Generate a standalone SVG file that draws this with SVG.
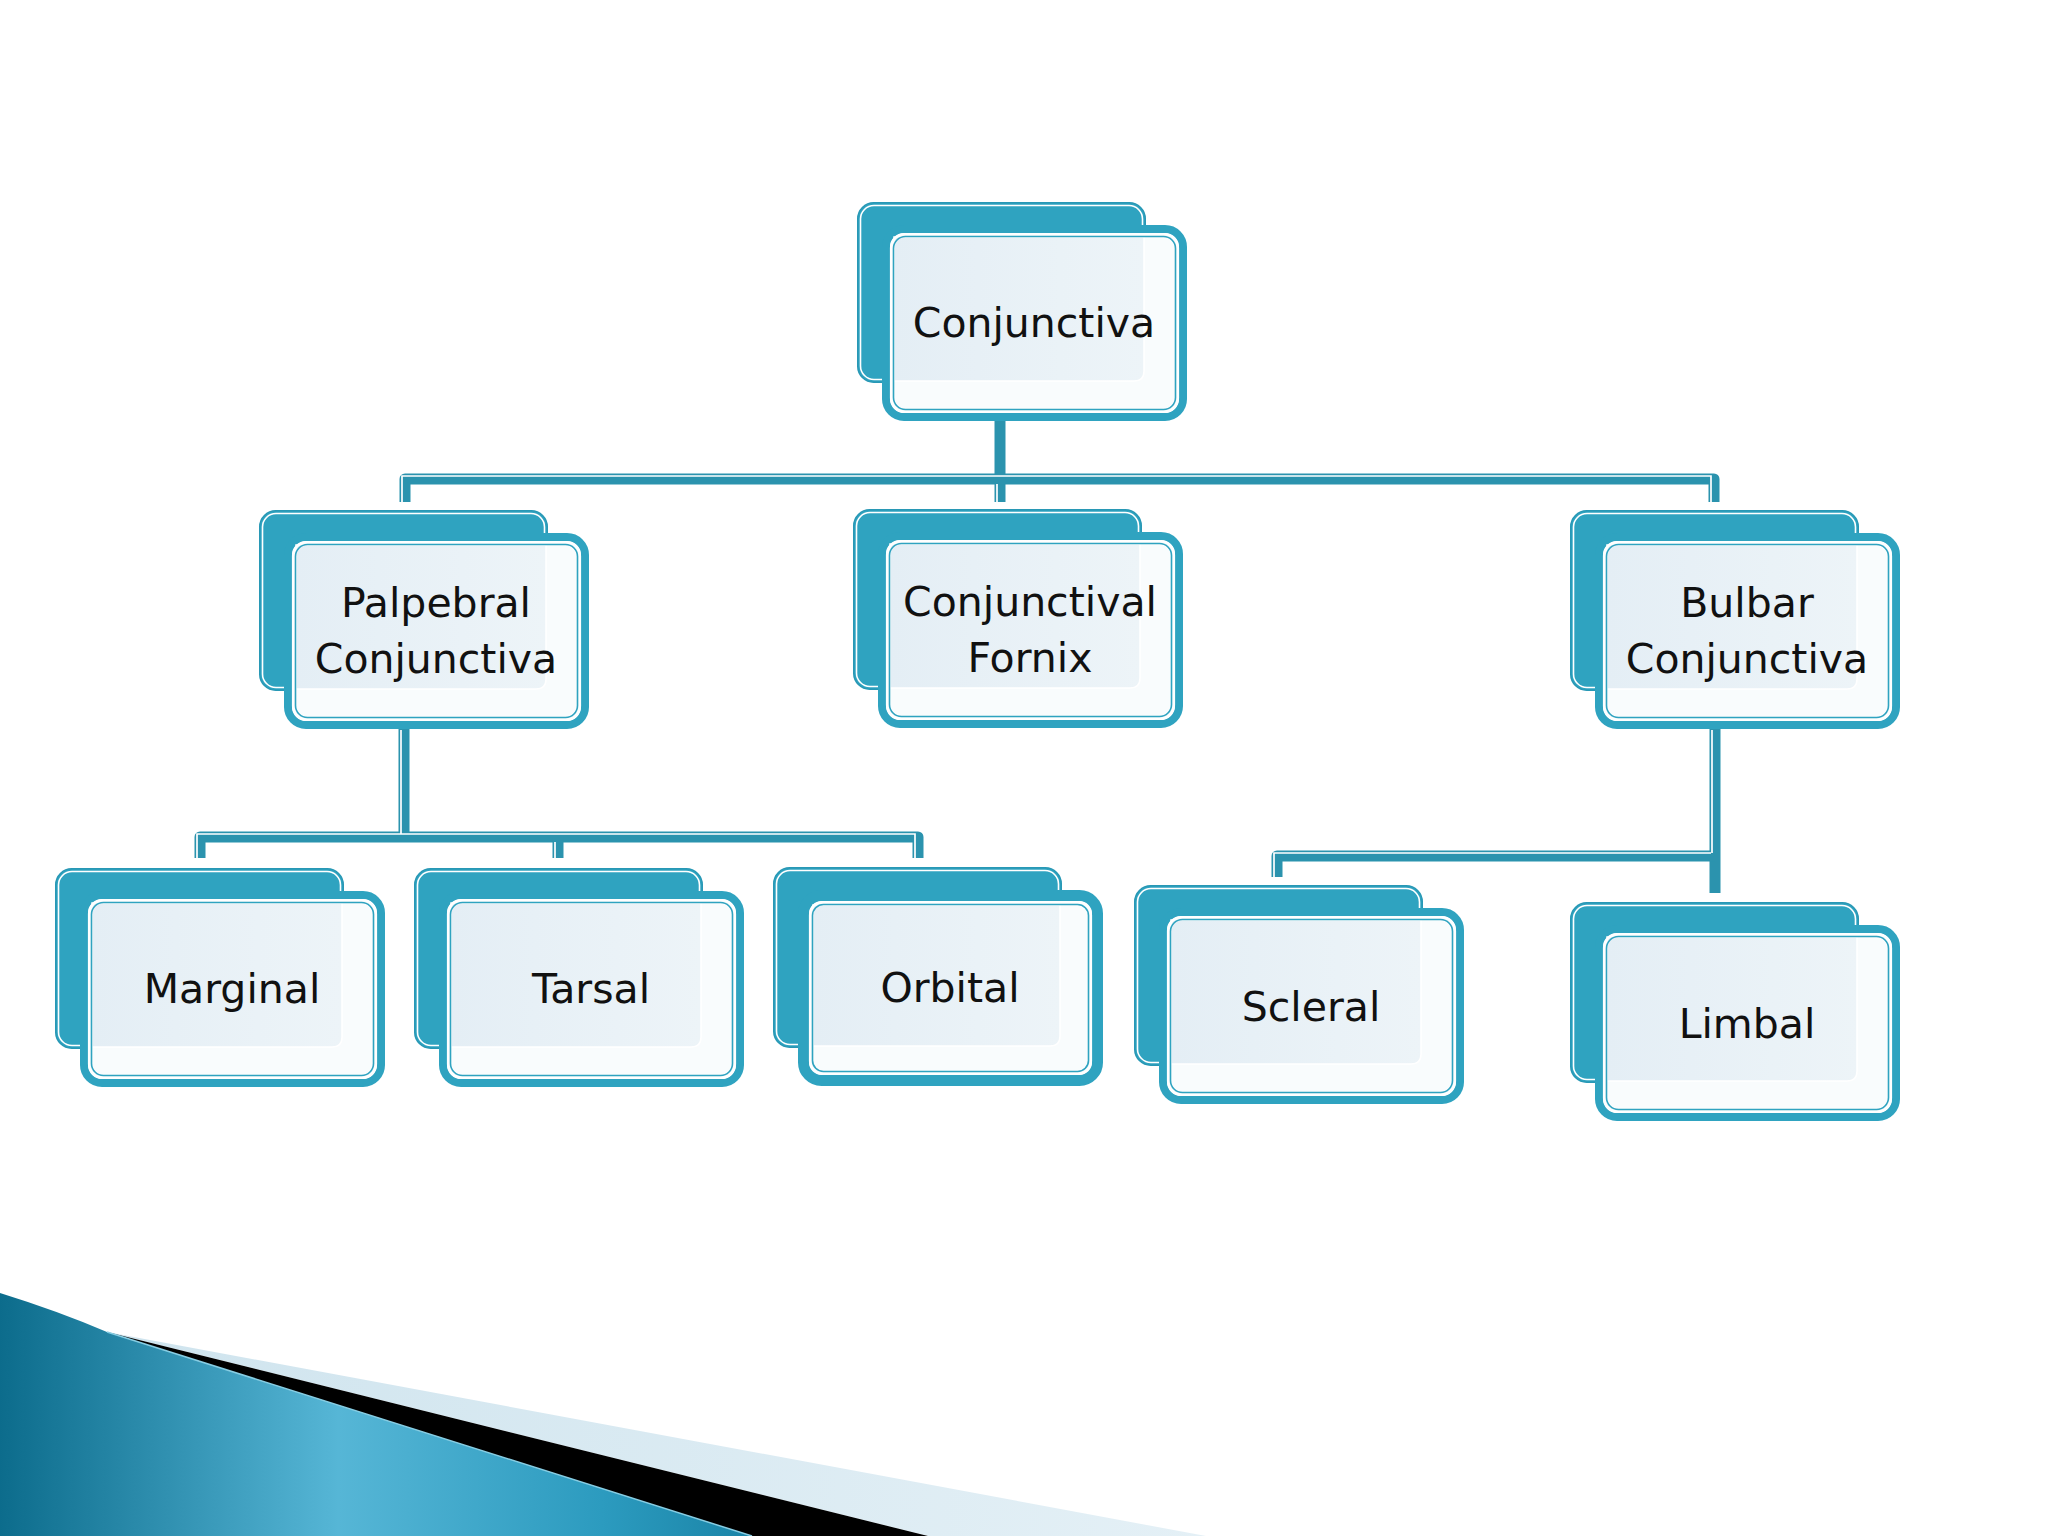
<svg xmlns="http://www.w3.org/2000/svg" xmlns:xlink="http://www.w3.org/1999/xlink" width="2048" height="1536" viewBox="0 0 2048 1536">
<defs>
<style>
.lbl{font-family:"DejaVu Sans","Liberation Sans",sans-serif;font-size:41px;fill:#111;text-anchor:middle}
.conn{fill:none;stroke:#2b93ae;stroke-width:11;stroke-linejoin:round}
.hl{fill:none;stroke:#ffffff;stroke-width:1.7}
</style>
<linearGradient id="blueG" x1="0" y1="0" x2="1" y2="0">
<stop offset="0" stop-color="#0c6c8c"/>
<stop offset="0.45" stop-color="#56b6d6"/>
<stop offset="0.8" stop-color="#2c9bbf"/>
<stop offset="1" stop-color="#1a84a7"/>
</linearGradient>
<linearGradient id="lightG" x1="0" y1="0" x2="1" y2="0">
<stop offset="0" stop-color="#cfe4ee"/>
<stop offset="1" stop-color="#e4f0f6"/>
</linearGradient>
<linearGradient id="tintG" x1="0" y1="0" x2="1" y2="0">
<stop offset="0" stop-color="#e4eef5"/>
<stop offset="1" stop-color="#edf4f8"/>
</linearGradient>
<g id="card">
<rect x="0.75" y="0.75" width="287.5" height="179.5" rx="16" fill="#2fa3c0" stroke="#2898b5" stroke-width="1.5"/>
<rect x="3.5" y="3.5" width="282" height="174" rx="13.5" fill="none" stroke="#ffffff" stroke-width="1.6"/>
<rect x="29" y="27" width="297" height="188" rx="18" fill="#f9fcfd" stroke="#2fa3c0" stroke-width="8"/>
<path d="M37,35 H287 V169 Q287,179 277,179 H37 Z" fill="url(#tintG)" stroke="#ffffff" stroke-width="1.5"/>
<rect x="34" y="32" width="287" height="178" rx="14" fill="none" stroke="#ffffff" stroke-width="2.2"/>
<rect x="36.5" y="34.5" width="282" height="173" rx="12" fill="none" stroke="#2fa3c0" stroke-width="1.6"/>
</g>
<g id="cardThick">
<rect x="0.75" y="0.75" width="287.5" height="179.5" rx="16" fill="#2fa3c0" stroke="#2898b5" stroke-width="1.5"/>
<rect x="3.5" y="3.5" width="282" height="174" rx="13.5" fill="none" stroke="#ffffff" stroke-width="1.6"/>
<rect x="30.5" y="28.5" width="294" height="185" rx="18" fill="#f9fcfd" stroke="#2fa3c0" stroke-width="11"/>
<path d="M40,38 H287 V169 Q287,179 277,179 H40 Z" fill="url(#tintG)" stroke="#ffffff" stroke-width="1.5"/>
<rect x="37" y="35" width="281" height="172" rx="13" fill="none" stroke="#ffffff" stroke-width="2.2"/>
<rect x="39.5" y="37.5" width="276" height="167" rx="11" fill="none" stroke="#2fa3c0" stroke-width="1.6"/>
</g>
</defs>
<rect width="2048" height="1536" fill="#ffffff"/>

<g id="decor">
<path d="M0,1293 Q58,1311 107,1332 L752,1536 L0,1536 Z" fill="url(#blueG)"/>
<path d="M107,1332 L928,1536 L1206,1536 Z" fill="url(#lightG)"/>
<path d="M107,1332 L752,1536 L928,1536 Z" fill="#000000"/>
<path d="M107,1332 L752,1536" stroke="#86cde3" stroke-width="1.5" fill="none"/>
</g>

<g id="connectors">
<path class="conn" d="M1000,420 V502"/>
<path class="conn" d="M405,502 V479 H1714 V502"/>
<path class="hl" d="M402,502 V476 H1711 V502"/>
<path class="hl" d="M997,484 V502"/>
<path class="conn" d="M404,727 V837"/>
<path class="conn" d="M200,858 V837 H918 V858"/>
<path class="conn" d="M558,837 V858"/>
<path class="hl" d="M197,858 V834 H915 V858"/>
<path class="hl" d="M401,730 V834"/>
<path class="hl" d="M555,842 V858"/>
<path class="conn" d="M1715,727 V893"/>
<path class="conn" d="M1277,877 V856 H1715"/>
<path class="hl" d="M1274,877 V853 H1711"/>
<path class="hl" d="M1712,730 V853"/>
</g>

<g id="n-conjunctiva" transform="translate(857,202)">
<use xlink:href="#card"/>
<text class="lbl" x="177" y="135">Conjunctiva</text>
</g>
<g id="n-palpebral" transform="translate(259,510)">
<use xlink:href="#card"/>
<text class="lbl" x="177" y="107">Palpebral</text>
<text class="lbl" x="177" y="163">Conjunctiva</text>
</g>
<g id="n-fornix" transform="translate(853,509)">
<use xlink:href="#card"/>
<text class="lbl" x="177" y="107">Conjunctival</text>
<text class="lbl" x="177" y="163">Fornix</text>
</g>
<g id="n-bulbar" transform="translate(1570,510)">
<use xlink:href="#card"/>
<text class="lbl" x="177" y="107">Bulbar</text>
<text class="lbl" x="177" y="163">Conjunctiva</text>
</g>
<g id="n-marginal" transform="translate(55,868)">
<use xlink:href="#card"/>
<text class="lbl" x="177" y="135">Marginal</text>
</g>
<g id="n-tarsal" transform="translate(414,868)">
<use xlink:href="#card"/>
<text class="lbl" x="177" y="135">Tarsal</text>
</g>
<g id="n-orbital" transform="translate(773,867)">
<use xlink:href="#cardThick"/>
<text class="lbl" x="177" y="135">Orbital</text>
</g>
<g id="n-scleral" transform="translate(1134,885)">
<use xlink:href="#card"/>
<text class="lbl" x="177" y="136">Scleral</text>
</g>
<g id="n-limbal" transform="translate(1570,902)">
<use xlink:href="#card"/>
<text class="lbl" x="177" y="136">Limbal</text>
</g>
</svg>
